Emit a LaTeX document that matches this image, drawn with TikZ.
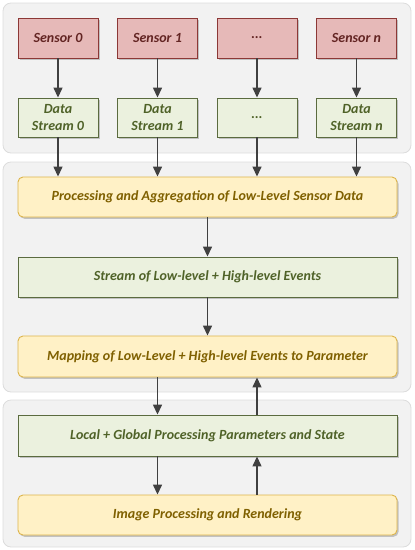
\documentclass[tikz,border=0pt]{standalone}
\usepackage{fontspec}
\setmainfont{Carlito}
\usetikzlibrary{arrows.meta,shadows,calc}
\definecolor{panelfill}{HTML}{F2F2F2}
\definecolor{paneldraw}{HTML}{DCDCDC}
\definecolor{sensfill}{HTML}{E6B9B8}
\definecolor{sensdraw}{HTML}{8C3836}
\definecolor{senstext}{HTML}{632523}
\definecolor{datafill}{HTML}{EBF1DE}
\definecolor{datadraw}{HTML}{5B6B3F}
\definecolor{datatext}{HTML}{4F6228}
\definecolor{yelfill}{HTML}{FFF1C6}
\definecolor{yeldraw}{HTML}{DDB44A}
\definecolor{yeltext}{HTML}{7F6000}
\definecolor{arrowcol}{HTML}{404040}
\tikzset{
  panel/.style={fill=panelfill,draw=paneldraw,line width=0.8pt,rounded corners=8pt},
  box/.style={inner sep=0pt,align=center,line width=0.9pt,font=\fontsize{14}{17}\selectfont\bfseries\itshape,
    drop shadow={shadow xshift=1.5pt,shadow yshift=-1.8pt,opacity=0.35,fill=black!60}},
  sensbox/.style={box,fill=sensfill,draw=sensdraw,text=senstext,minimum width=80pt,minimum height=40pt},
  databox/.style={box,fill=datafill,draw=datadraw,text=datatext,minimum width=80pt,minimum height=39pt},
  widegreen/.style={box,fill=datafill,draw=datadraw,text=datatext,minimum width=379pt,minimum height=40pt},
  wideyel/.style={box,fill=yelfill,draw=yeldraw,text=yeltext,minimum width=379pt,minimum height=40pt,rounded corners=5pt},
  conn/.style={draw=arrowcol,line width=1.4pt,-{Triangle[length=10pt,width=9pt]}}
}
\begin{document}
\begin{tikzpicture}[x=1pt,y=-1pt]
\useasboundingbox (0,0) rectangle (415,550);
\draw[panel] (3,3) rectangle (411,153);
\draw[panel] (3,162) rectangle (411,392);
\draw[panel] (3,400) rectangle (411,547);

\node[sensbox] (s0) at (58,38) {Sensor 0};
\node[sensbox] (s1) at (157.5,38) {Sensor 1};
\node[sensbox] (s2) at (257,38) {...};
\node[sensbox] (s3) at (356.5,38) {Sensor n};

\node[databox] (d0) at (58,117.5) {Data\\Stream 0};
\node[databox] (d1) at (157.5,117.5) {Data\\Stream 1};
\node[databox] (d2) at (257,117.5) {...};
\node[databox] (d3) at (356.5,117.5) {Data\\Stream n};

\node[wideyel] (proc) at (207.5,197) {Processing and Aggregation of Low-Level Sensor Data};
\node[widegreen] (stream) at (207.5,277) {Stream of Low-level + High-level Events};
\node[wideyel,minimum height=41pt] (map) at (207.5,356.5) {Mapping of Low-Level + High-level Events to Parameter};
\node[widegreen,minimum height=41pt] (loc) at (207.5,435.5) {Local + Global Processing Parameters and State};
\node[wideyel] (img) at (207.5,515) {Image Processing and Rendering};

\foreach \i in {0,1,2,3}{
  \draw[conn] (s\i.south) -- (d\i.north);
  \draw[conn] (d\i.south) -- (d\i.south |- proc.north);
}
\draw[conn] (proc.south) -- (stream.north);
\draw[conn] (stream.south) -- (map.north);
\draw[conn] (map.south -| s1) -- (loc.north -| s1);
\draw[conn] (loc.north -| s2) -- (map.south -| s2);
\draw[conn] (loc.south -| s1) -- (img.north -| s1);
\draw[conn] (img.north -| s2) -- (loc.south -| s2);
\end{tikzpicture}
\end{document}
